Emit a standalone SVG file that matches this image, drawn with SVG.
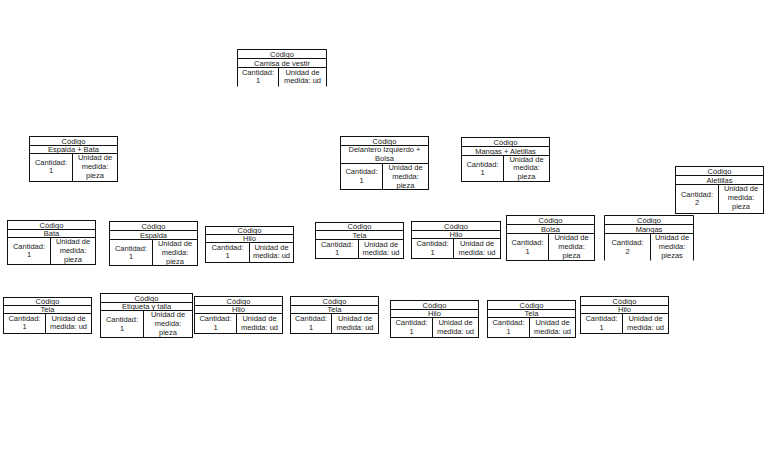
<svg xmlns="http://www.w3.org/2000/svg" width="768" height="466" viewBox="0 0 768 466">
<style>
.b{fill:#fff;stroke:#111;stroke-width:1}
.o{fill:none;stroke:#111;stroke-width:1}
.l{fill:none;stroke:#111;stroke-width:1}
text{font-family:"Liberation Sans",Arial,sans-serif;font-size:7.5px;fill:#222;text-anchor:middle}
</style>
<rect width="768" height="466" fill="#fff"/>
<g id="connectors"/>
<g id="n-camisa" transform="translate(237.5,49.5)">
<path class="o" d="M0 37V0H89V37"/><path class="l" d="M0 9H89M0 18H89M41 18V37"/>
<text x="44.5" y="7.5">Código</text><text x="44.5" y="16">Camisa de vestir</text>
<text x="20.5" y="25">Cantidad:</text><text x="20.5" y="33.5">1</text>
<text x="65" y="25">Unidad de</text><text x="65" y="33.5">medida: ud</text>
</g>
<g id="n-espalda-bata" transform="translate(29.5,136.5)">
<rect class="b" width="88" height="45"/><path class="l" d="M0 9H88M0 17H88M43 17V45"/>
<text x="44" y="7.5">Código</text><text x="44" y="15.5">Espalda + Bata</text>
<text x="21.5" y="28">Cantidad:</text><text x="21.5" y="36.5">1</text>
<text x="65.5" y="23.8">Unidad de</text><text x="65.5" y="32.3">medida:</text><text x="65.5" y="41">pieza</text>
</g>
<g id="n-delantero" transform="translate(340.5,136.5)">
<rect class="b" width="88" height="53"/><path class="l" d="M0 9H88M0 27H88M42 27V53"/>
<text x="44" y="7.5">Código</text><text x="44" y="15.5">Delantero Izquierdo +</text><text x="44" y="24">Bolsa</text>
<text x="21" y="37.5">Cantidad:</text><text x="21" y="46.5">1</text>
<text x="65" y="33.5">Unidad de</text><text x="65" y="42">medida:</text><text x="65" y="51">pieza</text>
</g>
<g id="n-mangas-aletillas" transform="translate(461.5,137.5)">
<rect class="b" width="88" height="44"/><path class="l" d="M0 9H88M0 18H88M42 18V44"/>
<text x="44" y="7.5">Código</text><text x="44" y="16">Mangas + Aletillas</text>
<text x="21" y="29">Cantidad:</text><text x="21" y="37.5">1</text>
<text x="65" y="24">Unidad de</text><text x="65" y="32.5">medida:</text><text x="65" y="41.5">pieza</text>
</g>
<g id="n-aletillas" transform="translate(675.5,166.5)">
<rect class="b" width="88" height="47"/><path class="l" d="M0 9H88M0 18H88M43 18V47"/>
<text x="44" y="7.5">Código</text><text x="44" y="16">Aletillas</text>
<text x="21.5" y="30">Cantidad:</text><text x="21.5" y="38.5">2</text>
<text x="65.5" y="24">Unidad de</text><text x="65.5" y="33">medida:</text><text x="65.5" y="42.5">pieza</text>
</g>
<g id="n-bata" transform="translate(7.5,220.5)">
<rect class="b" width="88" height="44"/><path class="l" d="M0 9H88M0 17H88M43 17V44"/>
<text x="44" y="7.5">Código</text><text x="44" y="15.5">Bata</text>
<text x="21.5" y="28">Cantidad:</text><text x="21.5" y="36.5">1</text>
<text x="65.5" y="23.5">Unidad de</text><text x="65.5" y="32">medida:</text><text x="65.5" y="41.5">pieza</text>
</g>
<g id="n-espalda" transform="translate(109.5,221.5)">
<rect class="b" width="88" height="44"/><path class="l" d="M0 9H88M0 18H88M43 18V44"/>
<text x="44" y="7.5">Código</text><text x="44" y="16">Espalda</text>
<text x="21.5" y="29">Cantidad:</text><text x="21.5" y="37.5">1</text>
<text x="65.5" y="24">Unidad de</text><text x="65.5" y="33">medida:</text><text x="65.5" y="42">pieza</text>
</g>
<g id="n-hilo-1" transform="translate(205.5,226.5)">
<rect class="b" width="88" height="36"/><path class="l" d="M0 8H88M0 16H88M44 16V36"/>
<text x="44" y="6.5">Código</text><text x="44" y="14.5">Hilo</text>
<text x="22" y="23">Cantidad:</text><text x="22" y="31.5">1</text>
<text x="66" y="23">Unidad de</text><text x="66" y="31.5">medida: ud</text>
</g>
<g id="n-tela-1" transform="translate(315.5,222.5)">
<rect class="b" width="88" height="36"/><path class="l" d="M0 8H88M0 17H88M43 17V36"/>
<text x="44" y="6.5">Código</text><text x="44" y="15">Tela</text>
<text x="21.5" y="24">Cantidad:</text><text x="21.5" y="32.5">1</text>
<text x="65.5" y="24">Unidad de</text><text x="65.5" y="32.5">medida: ud</text>
</g>
<g id="n-hilo-2" transform="translate(411.5,221.5)">
<rect class="b" width="89" height="37"/><path class="l" d="M0 9H89M0 17H89M42 17V37"/>
<text x="44.5" y="7.5">Código</text><text x="44.5" y="15.5">Hilo</text>
<text x="21" y="24.5">Cantidad:</text><text x="21" y="33">1</text>
<text x="65.5" y="24.5">Unidad de</text><text x="65.5" y="33">medida: ud</text>
</g>
<g id="n-bolsa" transform="translate(506.5,215.5)">
<rect class="b" width="88" height="45"/><path class="l" d="M0 9H88M0 18H88M42 18V45"/>
<text x="44" y="7.5">Código</text><text x="44" y="16">Bolsa</text>
<text x="21" y="29">Cantidad:</text><text x="21" y="38">1</text>
<text x="65" y="24">Unidad de</text><text x="65" y="33">medida:</text><text x="65" y="42.5">pieza</text>
</g>
<g id="n-mangas" transform="translate(604.5,215.5)">
<path class="o" d="M0 45V0H89V45"/><path class="l" d="M0 9H89M0 18H89M46 18V45"/>
<text x="44.5" y="7.5">Código</text><text x="44.5" y="16">Mangas</text>
<text x="23" y="29">Cantidad:</text><text x="23" y="38">2</text>
<text x="67.5" y="24">Unidad de</text><text x="67.5" y="33">medida:</text><text x="67.5" y="42">piezas</text>
</g>
<g id="n-tela-2" transform="translate(3.5,297.5)">
<rect class="b" width="88" height="36"/><path class="l" d="M0 8H88M0 16H88M42 16V36"/>
<text x="44" y="6.5">Código</text><text x="44" y="14.5">Tela</text>
<text x="21" y="23">Cantidad:</text><text x="21" y="31.5">1</text>
<text x="65" y="23">Unidad de</text><text x="65" y="31.5">medida: ud</text>
</g>
<g id="n-etiqueta" transform="translate(100.5,293.5)">
<rect class="b" width="92" height="44"/><path class="l" d="M0 9H92M0 17H92M43 17V44"/>
<text x="46" y="7.5">Código</text><text x="46" y="15.5">Etiqueta y talla</text>
<text x="21.5" y="28.5">Cantidad:</text><text x="21.5" y="37">1</text>
<text x="67.5" y="23.5">Unidad de</text><text x="67.5" y="32">medida:</text><text x="67.5" y="41.5">pieza</text>
</g>
<g id="n-hilo-3" transform="translate(194.5,296.5)">
<rect class="b" width="88" height="37"/><path class="l" d="M0 9H88M0 17H88M42 17V37"/>
<text x="44" y="7.5">Código</text><text x="44" y="15.5">Hilo</text>
<text x="21" y="24.5">Cantidad:</text><text x="21" y="33">1</text>
<text x="65" y="24.5">Unidad de</text><text x="65" y="33">medida: ud</text>
</g>
<g id="n-tela-3" transform="translate(290.5,296.5)">
<rect class="b" width="88" height="37"/><path class="l" d="M0 9H88M0 17H88M41 17V37"/>
<text x="44" y="7.5">Código</text><text x="44" y="15.5">Tela</text>
<text x="20.5" y="24.5">Cantidad:</text><text x="20.5" y="33">1</text>
<text x="64.5" y="24.5">Unidad de</text><text x="64.5" y="33">medida: ud</text>
</g>
<g id="n-hilo-4" transform="translate(390.5,300.5)">
<rect class="b" width="88" height="37"/><path class="l" d="M0 9H88M0 17H88M42 17V37"/>
<text x="44" y="7.5">Código</text><text x="44" y="15.5">Hilo</text>
<text x="21" y="24.5">Cantidad:</text><text x="21" y="33">1</text>
<text x="65" y="24.5">Unidad de</text><text x="65" y="33">medida: ud</text>
</g>
<g id="n-tela-4" transform="translate(487.5,300.5)">
<rect class="b" width="88" height="37"/><path class="l" d="M0 9H88M0 17H88M42 17V37"/>
<text x="44" y="7.5">Código</text><text x="44" y="15.5">Tela</text>
<text x="21" y="24.5">Cantidad:</text><text x="21" y="33">1</text>
<text x="65" y="24.5">Unidad de</text><text x="65" y="33">medida: ud</text>
</g>
<g id="n-hilo-5" transform="translate(580.5,296.5)">
<rect class="b" width="88" height="37"/><path class="l" d="M0 9H88M0 17H88M42 17V37"/>
<text x="44" y="7.5">Código</text><text x="44" y="15.5">Hilo</text>
<text x="21" y="24.5">Cantidad:</text><text x="21" y="33">1</text>
<text x="65" y="24.5">Unidad de</text><text x="65" y="33">medida: ud</text>
</g>
</svg>
